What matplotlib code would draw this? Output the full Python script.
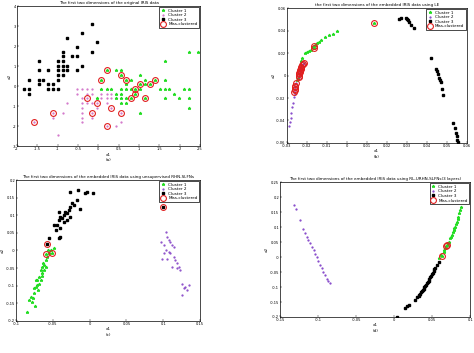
import matplotlib
matplotlib.use("Agg")
import matplotlib.pyplot as plt
import numpy as np

# ---- (a) original IRIS data, first two dims ----
a_c1 = [(2.46, 1.72), (2.22, 1.72), (1.63, 1.25), (0.43, 0.78), (0.55, 0.78), (0.2, 0.78),
        (0.55, 0.55), (0.07, 0.32), (0.67, 0.32), (0.79, 0.32), (1.02, 0.55), (1.39, 0.32),
        (1.63, 0.32), (1.27, 0.08), (1.02, 0.08), (0.91, -0.15), (1.02, -0.15), (1.15, 0.32),
        (0.07, -0.15), (0.2, -0.15), (0.32, -0.15), (0.55, -0.15), (0.67, -0.15), (0.79, -0.15),
        (1.51, -0.15), (1.63, -0.15), (1.74, -0.15), (2.1, -0.15), (2.22, -0.15), (0.91, -0.38),
        (1.86, -0.38), (-0.04, -0.62), (0.43, -0.62), (0.55, -0.62), (0.67, -0.62), (0.79, -0.62),
        (1.15, -0.62), (1.63, -0.62), (2.22, -0.62), (1.98, -0.62), (0.55, -0.85), (0.67, -0.85),
        (1.02, -1.32), (2.22, -1.07), (0.43, -0.38), (0.55, -0.38), (0.67, 0.08), (1.15, 0.08)]
a_c2 = [(-0.52, -0.15), (-0.40, -0.15), (-0.28, -0.15), (-0.16, -0.15), (-0.52, -0.38),
        (-0.16, -0.38), (-0.28, -0.38), (-0.40, -0.62), (-0.40, -0.85), (-0.40, -1.07),
        (-0.40, -1.32), (-0.40, -1.57), (-0.40, -1.77), (-0.76, -0.85), (-1.11, -1.57),
        (-1.0, -2.45), (-0.88, -1.32), (0.07, -0.38), (0.2, -0.38), (0.07, -0.62), (0.2, -0.62),
        (0.32, -0.38), (0.55, -1.77), (0.43, -2.0), (-0.16, -1.57), (-0.28, -0.85), (0.2, -0.85),
        (-0.04, -1.07), (0.32, -0.62), (-0.16, -0.85), (-0.28, -0.62), (-0.04, -0.85),
        (-0.16, -1.32), (0.32, -1.07), (0.55, -1.32), (0.2, -2.0), (-1.11, -1.32), (-1.59, -1.77)]
a_c3 = [(-0.16, 3.1), (-0.04, 2.18), (-0.41, 2.65), (-0.76, 2.42), (-0.52, 1.93), (-0.88, 1.72),
        (-0.88, 1.52), (-0.64, 1.5), (-0.52, 1.5), (-0.16, 1.72), (-0.41, 1.02), (-0.52, 0.78),
        (-0.76, 1.02), (-0.76, 0.78), (-1.0, 1.25), (-1.0, 1.02), (-1.0, 0.78), (-1.0, 0.55),
        (-1.0, 0.32), (-1.0, -0.15), (-0.88, 1.25), (-0.88, 1.02), (-0.88, 0.78), (-0.88, 0.55),
        (-1.47, 1.25), (-1.47, 0.78), (-1.47, 0.32), (-1.47, 0.08), (-1.36, 0.32), (-1.24, 0.78),
        (-1.24, 0.08), (-1.24, -0.15), (-1.11, 0.08), (-1.11, -0.15), (-1.71, 0.32),
        (-1.83, -0.15), (-1.71, -0.15), (-1.71, -0.38)]
a_miss = [(0.2, 0.78), (0.55, 0.55), (0.07, 0.32), (0.67, 0.32), (1.39, 0.32), (1.27, 0.08),
          (1.02, 0.08), (0.91, -0.15), (0.91, -0.38), (0.79, -0.62), (1.15, -0.62),
          (-0.28, -0.62), (-0.04, -0.85), (-0.16, -1.32), (0.32, -1.07), (0.55, -1.32),
          (0.2, -2.0), (-1.11, -1.32), (-1.59, -1.77)]

# ---- (b) LE embedding ----
b_c1 = [(-0.0250, -0.004), (-0.0245, -0.002), (-0.0230, 0.013), (-0.0222, 0.016), (-0.021, 0.020),
        (-0.020, 0.021), (-0.019, 0.022), (-0.018, 0.023), (-0.017, 0.025), (-0.016, 0.027),
        (-0.015, 0.029), (-0.014, 0.030), (-0.013, 0.032), (-0.011, 0.034), (-0.009, 0.036),
        (-0.007, 0.037), (-0.005, 0.040), (-0.0165, 0.0245), (-0.0162, 0.0265), (0.0135, 0.047)]
b_c2 = [(-0.0287, -0.045), (-0.0283, -0.041), (-0.0280, -0.038), (-0.0277, -0.033),
        (-0.0272, -0.028), (-0.0268, -0.024), (-0.0263, -0.019), (-0.0260, -0.016),
        (-0.0262, -0.0145), (-0.0261, -0.013), (-0.0260, -0.012), (-0.0259, -0.010),
        (-0.0258, -0.009), (-0.0256, -0.007), (-0.0240, -0.001), (-0.0239, 0.000),
        (-0.0238, 0.001), (-0.0237, 0.002), (-0.0236, 0.003), (-0.0234, 0.004), (-0.0233, 0.005),
        (-0.0231, 0.006), (-0.0230, 0.007), (-0.0227, 0.008), (-0.0225, 0.009), (-0.0220, 0.010),
        (-0.0215, 0.011)]
b_c3 = [(0.0260, 0.050), (0.0270, 0.051), (0.0295, 0.051), (0.0300, 0.050), (0.0305, 0.049),
        (0.0310, 0.048), (0.0320, 0.045), (0.0335, 0.042), (0.0420, 0.0155), (0.0445, 0.006),
        (0.0450, 0.004), (0.0455, 0.001), (0.0460, -0.002), (0.0465, -0.004), (0.0470, -0.006),
        (0.0475, -0.012), (0.0480, -0.017), (0.0530, -0.042), (0.0540, -0.047),
        (0.0545, -0.051), (0.0550, -0.054), (0.0553, -0.057), (0.0556, -0.059)]
b_miss = b_c2[8:] + [(-0.0165, 0.0245), (-0.0162, 0.0265), (0.0135, 0.047)]

# ---- (c) unsupervised RHN-SLFNs ----
c_c1 = [(-0.0857, -0.176), (-0.0821, -0.141), (-0.0799, -0.132), (-0.0777, -0.136),
        (-0.0754, -0.122), (-0.0741, -0.158), (-0.0732, -0.103), (-0.0710, -0.099),
        (-0.0688, -0.075), (-0.0719, -0.084), (-0.0665, -0.056), (-0.0643, -0.046),
        (-0.0621, -0.042), (-0.0598, -0.027), (-0.0576, -0.018), (-0.0554, -0.0085),
        (-0.0531, 0.001), (-0.0487, 0.0057), (-0.0732, -0.084), (-0.0665, -0.084),
        (-0.0643, -0.065), (-0.0754, -0.108), (-0.0696, -0.113), (-0.0621, -0.056),
        (-0.0598, -0.046), (-0.0786, -0.146), (-0.0688, -0.094), (-0.0652, -0.073),
        (-0.0634, -0.037), (-0.0563, 0.001), (-0.0589, -0.0104), (-0.0518, -0.0076)]
c_c2 = [(0.1031, 0.053), (0.1054, 0.039), (0.1076, 0.029), (0.1098, 0.025), (0.1121, 0.015),
        (0.1143, 0.010), (0.0964, 0.025), (0.1009, 0.015), (0.1009, -0.0085), (0.1054, -0.023),
        (0.1076, -0.004), (0.1098, -0.0085), (0.1143, -0.018), (0.1165, -0.027),
        (0.1188, -0.037), (0.1210, -0.046), (0.1232, -0.056), (0.1031, 0.001), (0.0987, -0.023),
        (0.1254, -0.094), (0.1277, -0.108), (0.1299, -0.103), (0.1344, -0.099),
        (0.1254, -0.127), (0.1321, -0.113), (0.1121, -0.046), (0.1188, -0.051)]
c_c3 = [(-0.0554, 0.034), (-0.0464, 0.058), (-0.0442, 0.072), (-0.0420, 0.086), (-0.0397, 0.096),
        (-0.0375, 0.091), (-0.0330, 0.110), (-0.0308, 0.105), (-0.0286, 0.115), (-0.0263, 0.124),
        (-0.0241, 0.134), (-0.0219, 0.129), (-0.0420, 0.110), (-0.0397, 0.063), (-0.0353, 0.082),
        (-0.0308, 0.086), (-0.0263, 0.096), (-0.0174, 0.143), (-0.0152, 0.172), (-0.0063, 0.162),
        (-0.0040, 0.167), (0.0049, 0.162), (-0.0130, 0.119), (-0.0420, 0.034), (-0.0397, 0.039),
        (-0.0487, 0.072), (-0.0263, 0.167), (-0.0353, 0.100), (-0.0585, 0.018), (0.0996, 0.122)]
c_miss = [(-0.0585, 0.018), (0.0996, 0.122), (-0.0589, -0.0104), (-0.0518, -0.0076)]

# ---- (d) RL-URHN-SLFNs (3 layers) ----
d_c1 = [(0.0596, -0.0046), (0.0623, 0.003), (0.0649, 0.018), (0.0671, 0.029), (0.0693, 0.040),
        (0.0684, 0.037), (0.0715, 0.051), (0.0737, 0.062), (0.0759, 0.074), (0.0781, 0.090),
        (0.0803, 0.101), (0.0825, 0.118), (0.0846, 0.135), (0.0868, 0.157), (0.0877, 0.168),
        (0.0610, 0.006), (0.0660, 0.024), (0.0705, 0.046), (0.0748, 0.068), (0.0770, 0.082),
        (0.0792, 0.096), (0.0814, 0.110), (0.0836, 0.127), (0.0857, 0.146)]
d_c2 = [(-0.1316, 0.174), (-0.1290, 0.160), (-0.1237, 0.124), (-0.1193, 0.093), (-0.1171, 0.079),
        (-0.1149, 0.068), (-0.1127, 0.057), (-0.1105, 0.046), (-0.1083, 0.035), (-0.1061, 0.024),
        (-0.1040, 0.011), (-0.1018, -0.001), (-0.0996, -0.014), (-0.0974, -0.027),
        (-0.0952, -0.038), (-0.0930, -0.049), (-0.0908, -0.061), (-0.0886, -0.072),
        (-0.0864, -0.081), (-0.0842, -0.088)]
d_c3 = [(0.0035, -0.200), (0.0145, -0.169), (0.0175, -0.164), (0.0197, -0.161), (0.0276, -0.142),
        (0.0298, -0.133), (0.0320, -0.129), (0.0342, -0.122), (0.0364, -0.113), (0.0386, -0.105),
        (0.0408, -0.097), (0.0430, -0.088), (0.0452, -0.079), (0.0474, -0.068), (0.0496, -0.057),
        (0.0518, -0.047), (0.0540, -0.036), (0.0561, -0.027), (0.0583, -0.016),
        (0.0331, -0.125), (0.0353, -0.117), (0.0375, -0.109), (0.0397, -0.101), (0.0419, -0.092),
        (0.0441, -0.083), (0.0463, -0.073), (0.0485, -0.062), (0.0507, -0.052), (0.0529, -0.041)]
d_miss = [(0.0623, 0.003), (0.0684, 0.037), (0.0693, 0.040)]

titles = ["The first two dimensions of the original IRIS data",
          "the first two dimensions of the embedded IRIS data using LE",
          "The first two dimensions of the embedded IRIS data using unsupervised RHN-SLFNs",
          "The first two dimensions of the embedded IRIS data using RL-URHN-SLFNs(3 layers)"]
captions = ["(a)", "(b)", "(c)", "(d)"]
xlims = [(-2, 2.5), (-0.03, 0.06), (-0.1, 0.15), (-0.15, 0.1)]
ylims = [(-3, 4), (-0.06, 0.06), (-0.2, 0.2), (-0.2, 0.25)]
xticks = [np.arange(-2, 2.51, 0.5), np.arange(-0.03, 0.061, 0.01),
          np.arange(-0.1, 0.151, 0.05), np.arange(-0.15, 0.101, 0.05)]
yticks = [np.arange(-3, 4.1, 1), np.arange(-0.06, 0.061, 0.02),
          np.arange(-0.2, 0.21, 0.05), np.arange(-0.2, 0.251, 0.05)]

boxes = [(0.036, 0.586, 0.386, 0.397), (0.605, 0.595, 0.380, 0.382),
         (0.034, 0.091, 0.388, 0.399), (0.591, 0.102, 0.401, 0.382)]

fig = plt.figure(figsize=(4.74, 3.53), dpi=100)

data = [(a_c1, a_c2, a_c3, a_miss), (b_c1, b_c2, b_c3, b_miss),
        (c_c1, c_c2, c_c3, c_miss), (d_c1, d_c2, d_c3, d_miss)]
c2_colors = ['#d070c8', '#8040c8', '#8848c8', '#8040c8']

for i, (c1, c2, c3, miss) in enumerate(data):
    ax = fig.add_axes(boxes[i])
    c1 = np.array(c1); c2 = np.array(c2); c3 = np.array(c3); miss = np.array(miss)
    ax.plot(c1[:, 0], c1[:, 1], '*', color='#22dd22', ms=2.2, mew=0.5, ls='none', label='Cluster 1')
    ax.plot(c2[:, 0], c2[:, 1], '.', color=c2_colors[i], ms=1.2, ls='none', label='Cluster 2')
    ax.plot(c3[:, 0], c3[:, 1], 's', color='black', ms=1.6, ls='none', label='Cluster 3')
    ax.plot(miss[:, 0], miss[:, 1], 'o', mfc='none', mec='#e02020', ms=4.2, mew=0.8,
            ls='none', label='Miss-clustered')
    ax.set_xlim(xlims[i])
    ax.set_ylim(ylims[i])
    ax.set_xticks(xticks[i])
    ax.set_yticks(yticks[i])
    ax.set_xticklabels(['%g' % round(v, 3) for v in xticks[i]])
    ax.set_yticklabels(['%g' % round(v, 3) for v in yticks[i]])
    ax.tick_params(labelsize=2.6, length=1.2, width=0.3, pad=0.8, direction='in')
    for s in ax.spines.values():
        s.set_linewidth(0.5)
    ax.set_title(titles[i], fontsize=3, pad=1.5)
    ax.set_xlabel('x1\n' + captions[i], fontsize=3, labelpad=1, linespacing=1.6)
    ax.set_ylabel('x2', fontsize=3, labelpad=0.5)
    leg = ax.legend(loc='upper right', fontsize=3, borderpad=0.3, labelspacing=0.15,
                    handlelength=1.2, handletextpad=0.6, fancybox=False, framealpha=1,
                    borderaxespad=0.3)
    leg.get_frame().set_edgecolor('black')
    leg.get_frame().set_linewidth(0.5)

fig.savefig('out.png', dpi=100)
